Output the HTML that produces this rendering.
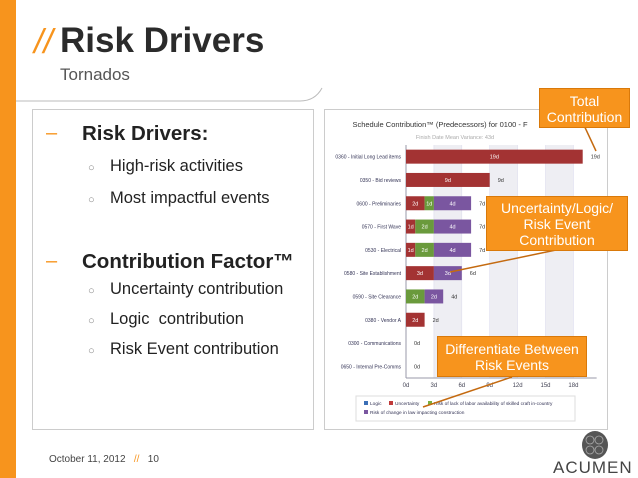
<!DOCTYPE html>
<html><head><meta charset="utf-8"><style>
body{margin:0;width:638px;height:478px;overflow:hidden;background:#fff;font-family:"Liberation Sans",sans-serif;position:relative}
.a{position:absolute}
.call{position:absolute;background:#f7941d;border:1px solid #d9790a;color:#fff;text-align:center;font-size:14px;line-height:16px;box-sizing:border-box}
.li{position:absolute;font-size:16.5px;color:#222}
.bul{position:absolute;font-size:11px;color:#888}
</style></head><body>
<div class="a" style="left:0;top:0;width:16px;height:478px;background:#f7941d"></div>
<div class="a" style="left:34px;top:23px;font-size:34px;color:#f7941d;font-style:italic">//</div>
<div class="a" style="left:60px;top:21px;font-size:35px;font-weight:bold;color:#2b2b2b">Risk Drivers</div>
<div class="a" style="left:60px;top:65px;font-size:17px;color:#555">Tornados</div>
<svg class="a" style="left:0;top:0" width="638" height="478"><path d="M16 101 H300 Q315 101 322 88" fill="none" stroke="#bbb" stroke-width="1"/></svg>
<div class="a" style="left:32px;top:109px;width:282px;height:321px;border:1px solid #ccc;box-sizing:border-box"></div>
<div class="a" style="left:324px;top:109px;width:284px;height:321px;border:1px solid #ccc;box-sizing:border-box"></div>
<div class="a" style="left:46px;top:122px;color:#f7941d;font-size:20px">–</div>
<div class="a" style="left:82px;top:122px;font-size:20.5px;font-weight:bold;color:#222">Risk Drivers:</div>
<div class="bul" style="left:88px;top:162px">○</div><div class="li" style="left:110px;top:157px">High-risk activities</div>
<div class="bul" style="left:88px;top:194px">○</div><div class="li" style="left:110px;top:189px">Most impactful events</div>
<div class="a" style="left:46px;top:250px;color:#f7941d;font-size:20px">–</div>
<div class="a" style="left:82px;top:250px;font-size:20.5px;font-weight:bold;color:#222">Contribution Factor™</div>
<div class="bul" style="left:88px;top:285px">○</div><div class="li" style="left:110px;top:280px">Uncertainty contribution</div>
<div class="bul" style="left:88px;top:315px">○</div><div class="li" style="left:110px;top:310px">Logic &nbsp;contribution</div>
<div class="bul" style="left:88px;top:345px">○</div><div class="li" style="left:110px;top:340px">Risk Event contribution</div>
<svg class="a" style="left:0;top:0" width="638" height="478" id="ch" font-family="Liberation Sans, sans-serif"></svg>
<div class="call" style="left:539px;top:88px;width:91px;height:40px;padding-top:4px">Total<br>Contribution</div>
<div class="call" style="left:486px;top:196px;width:142px;height:55px;padding-top:3px">Uncertainty/Logic/<br>Risk Event<br>Contribution</div>
<div class="call" style="left:437px;top:336px;width:150px;height:41px;padding-top:4px">Differentiate Between<br>Risk Events</div>
<div class="a" style="left:49px;top:454px;font-size:10px;color:#444">October 11, 2012 &nbsp;&nbsp;<span style="color:#f7941d">//</span>&nbsp;&nbsp; 10</div>
<svg class="a" style="left:578px;top:430px" width="34" height="30"><ellipse cx="17" cy="15" rx="13" ry="14" fill="#555"/><g stroke="#aaa" stroke-width="0.8" fill="none"><circle cx="12" cy="10" r="4"/><circle cx="21" cy="10" r="4"/><circle cx="12" cy="20" r="4"/><circle cx="21" cy="20" r="4"/></g></svg>
<div class="a" style="left:553px;top:458px;font-size:17px;color:#444;letter-spacing:1px">ACUMEN</div>
<script>
const categories=["0360 - Initial Long Lead items","0350 - Bid reviews","0600 - Preliminaries","0570 - First Wave","0530 - Electrical","0580 - Site Establishment","0590 - Site Clearance","0380 - Vendor A","0300 - Communications","0650 - Internal Pre-Comms"];
const uncertainty=[19,9,2,1,1,3,0,2,0,0];
const riskLabor=[0,0,1,2,2,0,2,0,0,0];
const riskLaw=[0,0,4,4,4,3,2,0,0,0];
const ticks=[0,3,6,9,12,15,18];
const NS="http://www.w3.org/2000/svg",svg=document.getElementById('ch');
function el(t,a,txt){const e=document.createElementNS(NS,t);for(const k in a)e.setAttribute(k,a[k]);if(txt!==undefined)e.textContent=txt;svg.appendChild(e);return e;}
const x0=406,pxd=9.3,y0=145,yh=378,step=(yh-y0)/categories.length;
const X=v=>x0+v*pxd, Y=i=>y0+step*(i+0.5);
let t=el('text',{x:440,y:127,'font-size':7.5,'text-anchor':'middle',fill:'#333'},'Schedule Contribution™ (Predecessors) for 0100 - F');

t=el('text',{x:455,y:139,'font-size':5.5,'text-anchor':'middle',fill:'#aaa'},'Finish Date Mean Variance: 43d');

for(let i=0;i<ticks.length;i++){const a=ticks[i];
 if(i%2==1){const b=el('rect',{x:X(a),y:y0,width:3*pxd,height:yh-y0,fill:'#eeeef3'});}
 const l=el('line',{x1:X(a),x2:X(a),y1:y0,y2:yh,stroke:'#dde',"stroke-width":0.6});
 const tl=el('text',{x:X(a),y:387,'font-size':6,'text-anchor':'middle',fill:'#445'},a+'d');}
const ax=el('line',{x1:x0,x2:x0,y1:y0,y2:yh,stroke:'#99a'});
const ax2=el('line',{x1:x0,x2:X(20.5),y1:yh,y2:yh,stroke:'#99a'});
const cols=['#a33333','#6a9a3c','#7a56a0'];
categories.forEach((c,i)=>{const y=Y(i);
 const lb=el('text',{x:401,y:y+2,'font-size':5,'text-anchor':'end',fill:'#335'},c);
 let s=0;[uncertainty[i],riskLabor[i],riskLaw[i]].forEach((v,k)=>{if(v>0){
  const r=el('rect',{x:X(s),y:y-7,width:v*pxd,height:14,fill:cols[k]});
  const bt=el('text',{x:X(s+v/2),y:y+2,'font-size':5.5,'text-anchor':'middle',fill:'#fff'},v+'d');
  s+=v;}});
 const tot=uncertainty[i]+riskLabor[i]+riskLaw[i];
 const tt=el('text',{x:X(tot)+8,y:y+2,'font-size':5.5,fill:'#333'},tot+'d');});
const lg=el('rect',{x:356,y:396,width:219,height:25,fill:'#fff',stroke:'#ddd'});
[['#3b6fb6','Logic',364,405],['#c03a3a','Uncertainty',389,405],['#7ab040','Risk of lack of labor availability of skilled craft in-country',428,405],['#7a56a0','Risk of change in law impacting construction',364,414]].forEach(e=>{
 const r=el('rect',{x:e[2],y:e[3]-4,width:4,height:4,fill:e[0]});
 const tx=el('text',{x:e[2]+6,y:e[3],'font-size':4.8,fill:'#335'},e[1]);});
[[582,121,596,151],[556,250,450,272],[512,377,423,407]].forEach(a=>{
 const l=el('line',{x1:a[0],y1:a[1],x2:a[2],y2:a[3],stroke:'#c46a10','stroke-width':1.5});});
</script>
</body></html>
